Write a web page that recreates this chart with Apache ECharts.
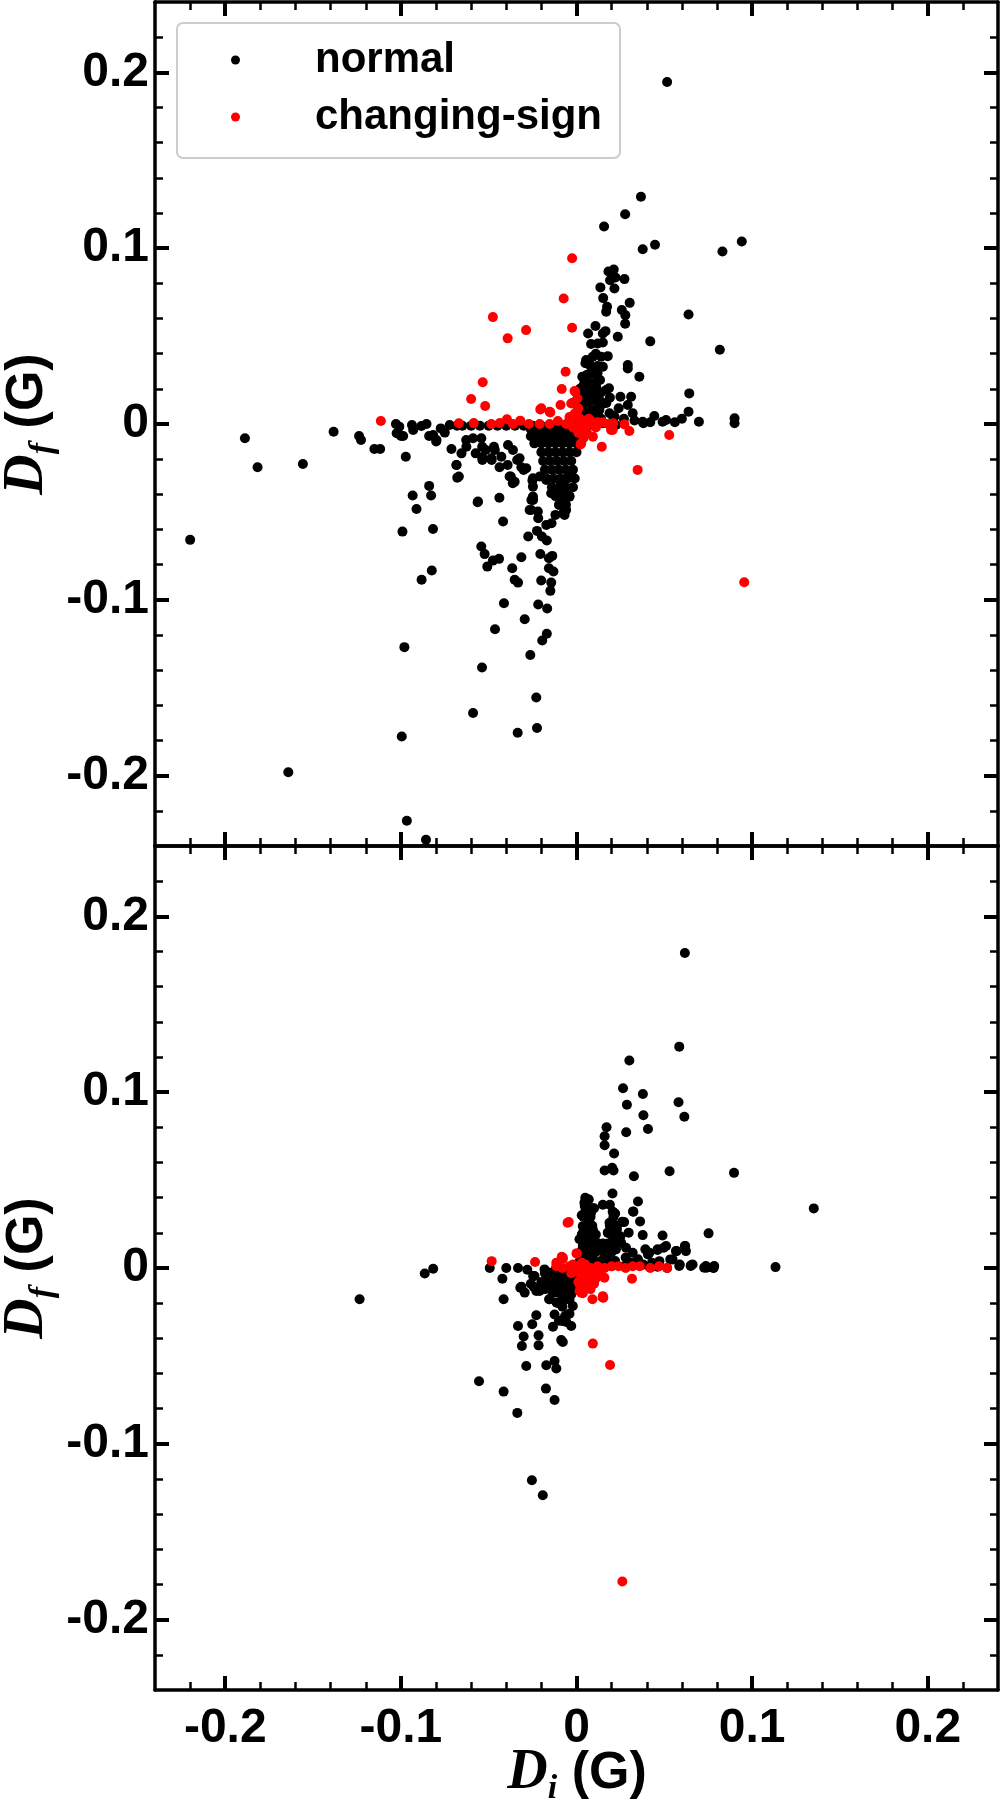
<!DOCTYPE html>
<html>
<head>
<meta charset="utf-8">
<script src="https://cdn.jsdelivr.net/npm/echarts@6/dist/echarts.min.js"></script>
<style>
  html, body { margin: 0; padding: 0; background: #fff; }
  #chart { width: 1002px; height: 1802px; }
</style>
</head>
<body>
<div id="chart"></div>
<script>
// tick positions (same on both axes of both panels)
var majorTicks = [-0.2, -0.1, 0, 0.1, 0.2];
var minorTicks = [-0.22, -0.18, -0.16, -0.14, -0.12, -0.08, -0.06, -0.04, -0.02,
    0.02, 0.04, 0.06, 0.08, 0.12, 0.14, 0.16, 0.18, 0.22];

// upper panel, normal events [Di, Df]
var topNormal = [
    [0.0516, 0.1945], [0.0367, 0.1292], [0.0277, 0.1193], [0.0157, 0.1123], [0.0377, 0.0994], [0.0447, 0.1019],
    [0.0831, 0.0981], [0.0941, 0.1038], [0.0182, 0.0867], [0.0212, 0.0879], [0.0191, 0.0818], [0.0222, 0.0833],
    [0.0273, 0.0824], [0.0136, 0.0777], [0.0216, 0.0771], [0.0152, 0.0716], [0.0174, 0.0667], [0.0169, 0.0638],
    [0.0258, 0.0648], [0.0278, 0.0619], [0.0303, 0.0689], [0.0277, 0.057], [0.0638, 0.0623], [0.0108, 0.0557],
    [0.0066, 0.0515], [0.0165, 0.0528], [0.015, 0.0515], [0.0235, 0.0496], [0.0083, 0.0455], [0.0121, 0.0458],
    [0.015, 0.0464], [0.042, 0.047], [0.0816, 0.0422], [0.0055, 0.0364], [0.0093, 0.0383], [0.014, 0.0383],
    [0.0178, 0.0386], [0.0051, 0.0345], [0.015, 0.0326], [0.0292, 0.0335], [0.0292, 0.0316], [0.0358, 0.0269],
    [0.0045, 0.0269], [0.0093, 0.0288], [0.0311, 0.0155], [0.0292, 0.0108], [0.032, 0.0061], [0.0377, 0.0013],
    [0.0443, 0.0045], [0.049, 0.0013], [0.051, 0.0023], [0.0642, 0.0174], [0.0638, 0.007], [0.0697, 0.0013],
    [0.09, 0.0032], [0.09, 0.0004], [0.0381, 0.0004], [0.0188, 0.0061], [0.0216, 0.0042], [0.0225, -0.0006],
    [0.015, 0.0004], [0.0093, -0.0006], [0.0055, 0.0098], [0.0131, 0.0136], [0.0169, 0.0193], [0.0112, 0.0212],
    [0.0036, 0.0212], [0.0185, 0.0203], [0.0134, 0.025], [0.0033, 0.0269], [0.0044, 0.0231], [0.0054, 0.0174],
    [0.0007, 0.0108], [0.008, 0.0042], [0.0153, 0.0117], [0.0207, 0.0045], [0.025, 0.0155],
    [0.002, 0.004], [0.004, 0.008], [0.006, 0.013], [0.003, 0.016], [0.008, 0.019], [0.010, 0.023],
    [0.006, 0.025], [0.002, 0.02], [0.009, 0.031], [0.012, 0.029], [0.007, 0.035], [0.011, 0.04],
    [0.003, 0.001], [0.006, 0.002], [0.011, 0.006], [0.013, 0.009], [0.017, 0.012], [0.019, 0.015],
    [0.01, 0.015], [0.014, 0.018], [0.024, 0.009], [0.027, 0.003], [0.033, 0.002], [0.042, 0.001],
    [0.056, 0.001], [0.06, 0.003],
    [0.002, 0.003], [0.006, 0.003], [0.01, 0.003], [0.014, 0.003], [0.001, 0.008], [0.005, 0.008],
    [0.009, 0.008], [0.013, 0.008], [0.003, 0.013], [0.007, 0.013], [0.011, 0.013], [0.004, 0.018],
    [0.008, 0.018], [0.012, 0.018], [0.005, 0.023], [0.009, 0.023], [0.006, 0.028], [0.011, 0.028],
    [0.008, 0.033], [0.012, 0.033],
    [-0.22, -0.0659], [-0.1888, -0.0081], [-0.1816, -0.0246], [-0.1558, -0.0227], [-0.1383, -0.0044],
    [-0.1238, -0.0068], [-0.1227, -0.0091], [-0.1151, -0.0142], [-0.1118, -0.0142], [-0.1028, 0],
    [-0.1009, -0.0015], [-0.0999, -0.0068], [-0.0972, -0.0186], [-0.0937, -0.0006], [-0.1024, -0.0053],
    [-0.0987, -0.0068], [-0.093, -0.0034], [-0.0883, -0.0011], [-0.0854, 0], [-0.0797, -0.0091],
    [-0.0816, -0.0063], [-0.075, -0.0049], [-0.0722, -0.0006], [-0.0773, -0.0025], [-0.0839, -0.0068],
    [-0.0799, -0.01], [-0.0712, -0.0142], [-0.0628, -0.0091], [-0.0839, -0.0352], [-0.0828, -0.0407],
    [-0.0933, -0.0407], [-0.0911, -0.0483], [-0.0991, -0.0612], [-0.0817, -0.0597], [-0.0824, -0.0833],
    [-0.0882, -0.0886], [-0.098, -0.1269], [-0.0995, -0.1777], [-0.1641, -0.1981], [-0.0966, -0.2256],
    [-0.0857, -0.2364], [-0.0683, -0.0233], [-0.0679, -0.0305], [-0.0563, -0.0445], [-0.0439, -0.0419],
    [-0.0418, -0.0555], [-0.0542, -0.0697], [-0.0523, -0.074], [-0.0476, -0.0777], [-0.0441, -0.0767],
    [-0.0508, -0.0811], [-0.0314, -0.0758], [-0.0366, -0.082], [-0.0352, -0.0886], [-0.0333, -0.0902],
    [-0.0275, -0.064], [-0.0225, -0.0608], [-0.0197, -0.064], [-0.0169, -0.0663], [-0.0206, -0.0739],
    [-0.0157, -0.0763], [-0.0138, -0.075], [-0.0157, -0.082], [-0.0131, -0.0839], [-0.0201, -0.089],
    [-0.0144, -0.0902], [-0.0149, -0.0949], [-0.0413, -0.1019], [-0.0218, -0.1027], [-0.0167, -0.1049],
    [-0.0295, -0.111], [-0.0464, -0.1167], [-0.0169, -0.1193], [-0.0195, -0.1231], [-0.0263, -0.1314],
    [-0.0538, -0.1385], [-0.0229, -0.1555], [-0.0589, -0.1644], [-0.0335, -0.1756], [-0.0225, -0.1729],
    [-0.0684, -0.0233], [-0.067, -0.0299], [-0.0655, -0.0167], [-0.0627, -0.0129], [-0.0589, -0.0081],
    [-0.0542, -0.0081], [-0.0536, -0.0205], [-0.0485, -0.0195], [-0.0517, -0.0148], [-0.047, -0.0129],
    [-0.0438, -0.0246], [-0.0428, -0.0186], [-0.039, -0.0119], [-0.0362, -0.0148], [-0.0381, -0.0299],
    [-0.0352, -0.0328], [-0.0324, -0.0195], [-0.0314, -0.0246], [-0.0286, -0.0252], [-0.0248, -0.0309],
    [-0.0248, -0.0356], [-0.021, -0.0299], [-0.0248, -0.0413], [-0.0172, -0.0318], [-0.0144, -0.0394],
    [-0.0106, -0.0375], [-0.0078, -0.0413], [-0.0097, -0.0318], [-0.0059, -0.0489], [-0.004, -0.0413],
    [-0.0068, -0.0517], [-0.0172, -0.0574], [-0.022, -0.0498], [-0.0267, -0.0489], [-0.0257, -0.0432],
    [-0.0561, -0.0441], [-0.0251, -0.0322], [-0.0247, -0.0432], [-0.0258, -0.0489], [-0.0218, -0.0536],
    [-0.0142, -0.0564], [-0.012, -0.0517], [-0.0076, -0.0508], [-0.0091, -0.0413], [-0.0062, -0.0413],
    [-0.0102, -0.0375], [-0.0084, -0.0337], [-0.0047, -0.0299], [-0.0192, -0.0299], [-0.0301, -0.0261],
    [-0.0338, -0.0205], [-0.0374, -0.0299], [-0.0363, -0.0337], [-0.0392, -0.0233], [-0.0465, -0.0148],
    [-0.0483, -0.0205], [-0.0537, -0.0129], [-0.0574, -0.0167], [-0.0537, -0.0189],
    [-0.068, -0.001], [-0.065, -0.001], [-0.06, -0.001], [-0.055, -0.001], [-0.05, -0.001], [-0.045, -0.001],
    [-0.04, -0.001], [-0.035, -0.001], [-0.03, -0.001], [-0.025, -0.001], [-0.02, -0.001], [-0.015, -0.001],
    [-0.01, -0.001], [-0.005, -0.001], [0, -0.001],
    [-0.026, -0.003], [-0.022, -0.003], [-0.018, -0.003], [-0.014, -0.003], [-0.01, -0.003], [-0.006, -0.003], [-0.002, -0.003],
    [-0.026, -0.007], [-0.022, -0.007], [-0.018, -0.007], [-0.014, -0.007], [-0.01, -0.007], [-0.006, -0.007], [-0.002, -0.007], [0.001, -0.007],
    [-0.024, -0.011], [-0.02, -0.011], [-0.016, -0.011], [-0.012, -0.011], [-0.008, -0.011], [-0.004, -0.011], [0, -0.011],
    [-0.02, -0.016], [-0.016, -0.016], [-0.012, -0.016], [-0.008, -0.016], [-0.004, -0.016], [0, -0.016],
    [-0.019, -0.021], [-0.015, -0.021], [-0.011, -0.021], [-0.007, -0.021], [-0.003, -0.021],
    [-0.018, -0.026], [-0.014, -0.026], [-0.01, -0.026], [-0.006, -0.026], [-0.002, -0.026],
    [-0.017, -0.031], [-0.013, -0.031], [-0.009, -0.031], [-0.005, -0.031], [-0.001, -0.031],
    [-0.014, -0.036], [-0.01, -0.036], [-0.006, -0.036], [-0.002, -0.036],
    [-0.012, -0.041], [-0.008, -0.041], [-0.004, -0.041], [-0.01, -0.046], [-0.006, -0.046]
];

// upper panel, changing-sign events
var topChanging = [
    [-0.0025, 0.0943], [-0.0073, 0.0714], [-0.0476, 0.0608], [-0.0287, 0.0534], [-0.0392, 0.0487],
    [-0.0025, 0.0547], [-0.0062, 0.0297], [-0.0534, 0.0237], [-0.06, 0.0142], [-0.052, 0.0102],
    [-0.0084, 0.0199], [-0.02, 0.0089], [-0.0149, 0.0066], [-0.0091, 0.0108], [-0.0007, 0.0184],
    [-0.0153, 0.007], [-0.003, 0.0117], [0.0002, 0.0061], [0.0017, 0.0023], [-0.0011, 0.0188],
    [-0.0021, 0.0121], [-0.0206, 0.0083],
    [-0.1114, 0.0017], [-0.067, 0.0004], [-0.0585, 0.0005], [-0.0485, 0], [-0.0437, 0.0005], [-0.0396, 0.0027],
    [-0.0362, 0], [-0.032, 0.0019], [-0.0271, 0], [-0.021, 0], [-0.0153, 0], [-0.0106, 0.0017], [-0.0059, 0],
    [-0.003, 0.0023], [0.003, 0.0004], [0.006, 0.001], [0.009, 0], [0.012, 0.0004], [0.015, 0.001], [0.018, 0],
    [0.021, 0.0004], [0.0273, -0.0002], [0.0301, -0.004], [0.0206, -0.0034], [0.0093, -0.0072], [0.0023, -0.0116],
    [0.0144, -0.0129], [0.0528, -0.0063], [0.0348, -0.0261], [0.0955, -0.09], [0.0046, -0.0034], [0.0197, -0.0034],
    [0.0027, -0.011], [0.001, -0.005], [0.004, -0.008], [0.002, 0.003], [-0.001, 0.006], [0.001, 0.009],
    [-0.004, 0.004], [0.007, 0.003], [0.011, -0.002], [0.0005, 0.0145],
    [0.003, -0.002], [0.006, -0.005], [-0.002, -0.002], [0.008, 0.002], [0.012, 0.001]
];

// lower panel, normal events
var bottomNormal = [
    [0.0617, 0.1791], [0.0585, 0.1259], [0.0301, 0.118], [0.0265, 0.1022], [0.0378, 0.099], [0.0287, 0.0928],
    [0.0581, 0.0943], [0.0381, 0.0869], [0.0614, 0.086], [0.0407, 0.0791], [0.0171, 0.08], [0.0283, 0.0772],
    [0.016, 0.0749], [0.016, 0.0698], [0.0214, 0.0651], [0.016, 0.0554], [0.0211, 0.0554], [0.0327, 0.0522],
    [0.053, 0.055], [0.0897, 0.0541], [0.1351, 0.0339], [0.0203, 0.057], [0.0205, 0.0424], [0.0066, 0.039],
    [0.015, 0.036], [0.035, 0.0378], [0.0208, 0.0318], [0.0322, 0.0322], [0.0047, 0.0352], [0.0055, 0.0314],
    [0.0271, 0.0261], [0.0362, 0.0265], [0.0297, 0.0201], [0.0377, 0.0187], [0.049, 0.0185], [0.0752, 0.0197],
    [0.0324, 0.032], [0.0206, 0.032], [0.026, 0.0263], [0.0045, 0.0371], [0.0051, 0.0323], [0.0083, 0.0314],
    [0.0074, 0.0257], [0.0036, 0.0238], [0.0093, 0.0219], [0.0055, 0.0181], [0.0017, 0.0163], [0.0102, 0.0163],
    [0.0131, 0.0125], [0.0036, 0.0125], [0.0083, 0.0096], [0.0188, 0.0257], [0.0178, 0.0201], [0.0216, 0.0172],
    [0.0254, 0.0144], [0.0225, 0.0106], [0.0282, 0.0115], [0.032, 0.0087], [0.0392, 0.0106], [0.0462, 0.0106],
    [0.051, 0.0125], [0.0566, 0.0096], [0.0619, 0.0125], [0.0623, 0.0096], [0.0547, 0.0049], [0.0585, 0.0011],
    [0.0652, 0.0015], [0.0727, 0.0002], [0.0778, 0.0002], [0.0472, 0.0039], [0.0415, 0.0007], [0.0415, 0.0087],
    [0.0617, 0.0125], [0.057, 0.0096], [0.0534, 0.0049], [0.0497, 0.0115], [0.0461, 0.0102], [0.0407, 0.0077],
    [0.065, 0.0011], [0.0741, 0.0002], [0.0781, 0], [0.1133, 0.0005], [0.0588, 0.002], [0.0516, 0],
    [0.0461, 0.0007], [0.0661, 0.002], [0.0737, 0.0011], [0.0784, 0.0011],
    [0.002, 0.004], [0.005, 0.007], [0.008, 0.005], [0.003, 0.01], [0.006, 0.014], [0.01, 0.019], [0.004, 0.021],
    [0.007, 0.028], [0.003, 0.03], [0.009, 0.034], [0.005, 0.04], [0.012, 0.003], [0.016, 0.006], [0.019, 0.009],
    [0.015, 0.014], [0.018, 0.02], [0.02, 0.026], [0.023, 0.022], [0.022, 0.031], [0.019, 0.036], [0.025, 0.018],
    [0.028, 0.006], [0.031, 0.003], [0.035, 0.005], [0.038, 0.002], [0.043, 0.003], [0.027, 0.001], [0.02, 0.001],
    [0.012, 0.001],
    [0.002, 0.004], [0.006, 0.004], [0.01, 0.004], [0.014, 0.004], [0.018, 0.004], [0.022, 0.004],
    [0.003, 0.009], [0.007, 0.009], [0.011, 0.009], [0.016, 0.009], [0.02, 0.009],
    [0.004, 0.014], [0.008, 0.014], [0.012, 0.014], [0.018, 0.014], [0.022, 0.014],
    [0.003, 0.019], [0.007, 0.019], [0.011, 0.019], [0.02, 0.019],
    [0.005, 0.024], [0.009, 0.024], [0.019, 0.024], [0.023, 0.024],
    [0.004, 0.029], [0.008, 0.029], [0.021, 0.029], [0.006, 0.034], [0.01, 0.034], [0.007, 0.039],
    [-0.0864, -0.0031], [-0.0816, -0.0004], [-0.1235, -0.0178], [-0.0494, 0], [-0.04, 0], [-0.0333, 0],
    [-0.0422, -0.0061], [-0.0415, -0.0178], [-0.0314, -0.0106], [-0.0295, -0.014], [-0.0244, -0.0106],
    [-0.021, -0.0131], [-0.0239, -0.0046], [-0.0182, -0.0008], [-0.0153, -0.0027], [-0.0153, -0.0178],
    [-0.0106, -0.0197], [-0.0087, -0.015], [-0.0134, -0.0083], [-0.0097, -0.0074], [-0.0059, -0.0103],
    [-0.003, -0.015], [-0.0021, -0.0216], [-0.0059, -0.0273], [-0.003, -0.033], [-0.0125, -0.0264],
    [-0.0078, -0.0302], [-0.0134, -0.0334], [-0.0229, -0.0269], [-0.0252, -0.032], [-0.0333, -0.033],
    [-0.0301, -0.039], [-0.0311, -0.0444], [-0.0216, -0.0383], [-0.0216, -0.044], [-0.0087, -0.041],
    [-0.0078, -0.0421], [-0.0286, -0.0557], [-0.0172, -0.0553], [-0.0125, -0.0529], [-0.0115, -0.0572],
    [-0.0555, -0.0644], [-0.0415, -0.0703], [-0.0174, -0.0686], [-0.0125, -0.0751], [-0.0337, -0.0824],
    [-0.0254, -0.1207], [-0.0192, -0.1292], [-0.032, -0.0112], [-0.0247, -0.0046], [-0.0229, -0.0131],
    [-0.0156, -0.0178], [-0.0113, -0.0197], [-0.0065, -0.0273], [-0.0058, -0.0307],
    [-0.004, -0.002], [-0.008, -0.004], [-0.012, -0.005], [-0.016, -0.006], [-0.02, -0.008], [-0.026, -0.009],
    [-0.006, -0.007], [-0.002, -0.006], [-0.01, -0.011], [-0.005, -0.016], [-0.012, -0.014], [-0.018, -0.012],
    [-0.028, -0.001], [-0.012, -0.001], [-0.006, -0.001], [-0.001, -0.01], [-0.008, -0.022], [-0.004, -0.026],
    [-0.01, -0.03],
    [-0.018, -0.003], [-0.014, -0.003], [-0.01, -0.003], [-0.006, -0.003], [-0.002, -0.003],
    [-0.016, -0.008], [-0.012, -0.008], [-0.008, -0.008], [-0.004, -0.008],
    [-0.014, -0.013], [-0.01, -0.013], [-0.006, -0.013], [-0.002, -0.013], [-0.008, -0.018], [-0.004, -0.018]
];

// lower panel, changing-sign events
var bottomChanging = [
    [-0.0051, 0.0257], [0, 0.0083], [-0.0483, 0.0039], [-0.0236, 0.0034], [-0.0084, 0.0064], [-0.0109, 0.003],
    [0.0516, 0], [0.0316, -0.0061], [0.0149, -0.0168], [0.0091, -0.0178], [0.0025, -0.0131], [0.0093, -0.043],
    [0.0191, -0.0552], [0.0261, -0.1783], [0.0153, -0.0169], [0.0017, -0.0131], [0.0036, -0.0144],
    [0.0093, -0.0084], [0.0064, -0.0093], [0.0159, -0.0055], [-0.0078, 0.0059], [0.0002, 0.0083],
    [-0.0115, 0.003], [-0.0044, 0.0261], [-0.0078, 0.0053],
    [-0.0115, 0.001], [-0.008, 0], [-0.004, 0.001], [0, 0], [0.004, 0.001], [0.008, 0], [0.012, 0.001],
    [0.016, 0], [0.02, 0.001], [0.024, 0.001], [0.028, 0], [0.032, 0.001], [0.036, 0.001], [0.042, 0],
    [0.047, 0.001], [0.002, -0.003], [0.005, -0.005], [0.001, -0.008], [0.007, -0.002], [0.004, -0.011],
    [0.008, -0.012], [0.011, -0.006], [0.003, 0.003], [-0.002, 0.002], [0.0027, -0.014], [0.015, -0.016],
    [0.001, -0.001], [0.005, 0.002], [0.009, -0.004], [0.006, -0.008], [0.002, -0.01], [0.01, -0.009],
    [0.013, -0.003], [-0.003, -0.003]
];

var sansFont = "'Liberation Sans', Arial, sans-serif";
var serifFont = "'Liberation Serif', 'Times New Roman', serif";

var titleRich = {
    d: { fontFamily: serifFont, fontStyle: 'italic', fontWeight: 'bold', fontSize: 56, fill: '#000', color: '#000' },
    s: { fontFamily: serifFont, fontStyle: 'italic', fontWeight: 'bold', fontSize: 34, fill: '#000', color: '#000', padding: [30, 0, 0, 0] },
    g: { fontFamily: sansFont, fontWeight: 'bold', fontSize: 52, fill: '#000', color: '#000' }
};

function tickAxis(gridIndex, position, values, len, width, main) {
    return {
        type: 'value',
        gridIndex: gridIndex,
        position: position,
        min: -0.24,
        max: 0.24,
        axisLine: { show: main, onZero: false, lineStyle: { color: '#000', width: 3.5 } },
        axisTick: { show: true, inside: true, length: len, customValues: values,
            lineStyle: { color: '#000', width: width } },
        axisLabel: { show: false },
        splitLine: { show: false }
    };
}

function labelAxis(gridIndex, position, showLabel) {
    var ax = tickAxis(gridIndex, position, majorTicks, 14, 4, true);
    ax.axisLabel = {
        show: showLabel,
        customValues: majorTicks,
        margin: position == 'left' ? 6 : 15,
        fontSize: 48,
        fontWeight: 'bold',
        fontFamily: sansFont,
        color: '#000'
    };
    return ax;
}

var xAxes = [];
var yAxes = [];
[0, 1].forEach(function (g) {
    xAxes.push(labelAxis(g, 'bottom', g == 1));
    xAxes.push(tickAxis(g, 'bottom', minorTicks, 8, 2.5, false));
    xAxes.push(tickAxis(g, 'top', majorTicks, 14, 4, true));
    xAxes.push(tickAxis(g, 'top', minorTicks, 8, 2.5, false));
    yAxes.push(labelAxis(g, 'left', true));
    yAxes.push(tickAxis(g, 'left', minorTicks, 8, 2.5, false));
    yAxes.push(tickAxis(g, 'right', majorTicks, 14, 4, true));
    yAxes.push(tickAxis(g, 'right', minorTicks, 8, 2.5, false));
});

function scatter(name, data, color, g) {
    return {
        name: name,
        type: 'scatter',
        xAxisIndex: g * 4,
        yAxisIndex: g * 4,
        data: data,
        symbolSize: 10,
        clip: false,
        itemStyle: { color: color, opacity: 1 }
    };
}

// axis titles as text elements
function axisTitle(text, x, y, rotation) {
    return {
        type: 'text',
        x: x,
        y: y,
        rotation: rotation,
        style: { text: text, rich: titleRich, align: 'center', verticalAlign: 'middle' }
    };
}

var chart = echarts.init(document.getElementById('chart'), null, { renderer: 'canvas' });
var option = {
    animation: false,
    backgroundColor: '#fff',
    grid: [
        { left: 155, top: 2, width: 843, height: 844, outerBoundsMode: 'none' },
        { left: 155, top: 846, width: 843, height: 844, outerBoundsMode: 'none' }
    ],
    legend: {
        orient: 'vertical',
        left: 177,
        top: 23,
        padding: [12, 18, 16, 54],
        itemGap: 7,
        itemWidth: 9,
        itemHeight: 9,
        backgroundColor: '#fff',
        borderColor: '#cccccc',
        borderWidth: 2,
        borderRadius: 6,
        data: [{ name: 'normal', icon: 'circle' }, { name: 'changing-sign', icon: 'circle' }],
        textStyle: {
            fontSize: 42,
            fontWeight: 'bold',
            fontFamily: sansFont,
            color: '#000',
            lineHeight: 50,
            padding: [0, 0, 0, 70]
        }
    },
    graphic: [
        axisTitle('{d|D}{s|f}{g| (G)}', 28, 424, Math.PI / 2),
        axisTitle('{d|D}{s|f}{g| (G)}', 28, 1268, Math.PI / 2),
        axisTitle('{d|D}{s|i}{g| (G)}', 577, 1774, 0)
    ],
    xAxis: xAxes,
    yAxis: yAxes,
    series: [
        scatter('normal', topNormal, '#000000', 0),
        scatter('changing-sign', topChanging, '#ff0000', 0),
        scatter('normal', bottomNormal, '#000000', 1),
        scatter('changing-sign', bottomChanging, '#ff0000', 1)
    ]
};
chart.setOption(option);
</script>
</body>
</html>
